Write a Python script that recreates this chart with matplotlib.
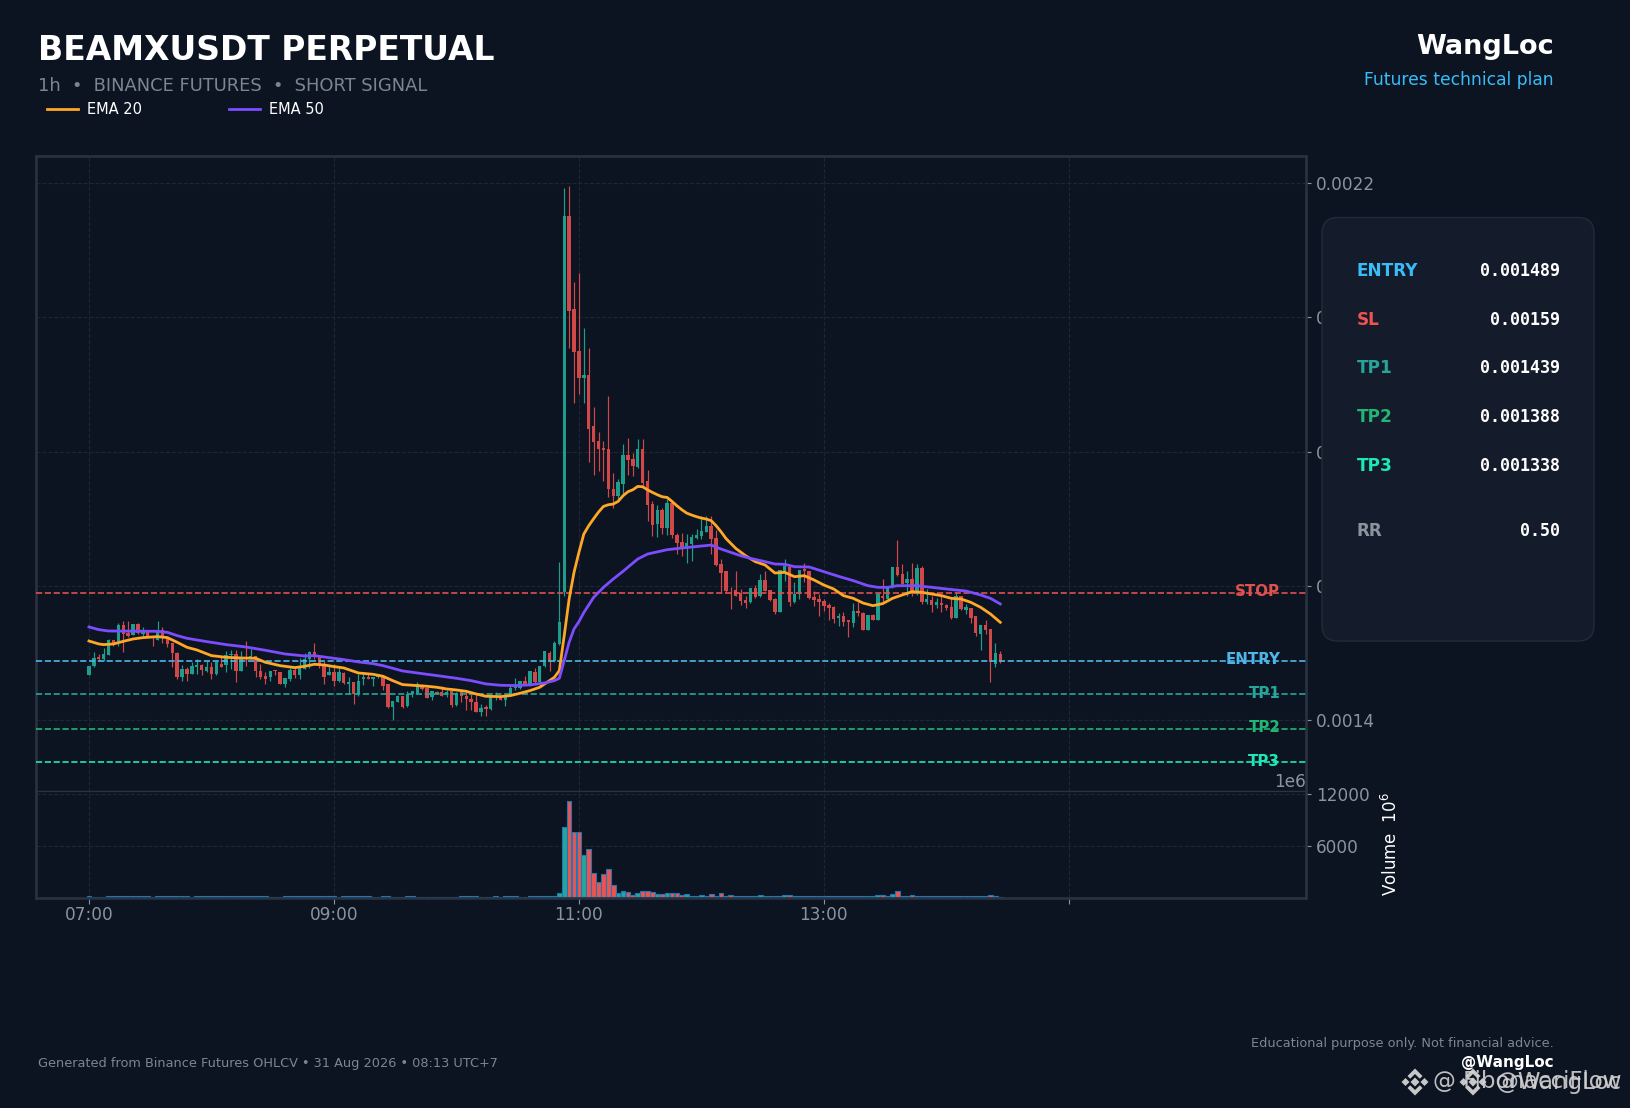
import numpy as np
import matplotlib
matplotlib.use("Agg")
import matplotlib.pyplot as plt
from matplotlib.patches import FancyBboxPatch, Polygon
from matplotlib.ticker import FormatStrFormatter, ScalarFormatter

plt.rcParams["font.family"] = ["DejaVu Sans"]

# candles, prices in 1e-6 USDT
opens = [
    1468, 1481, 1495, 1491, 1498, 1520, 1517, 1542, 1530, 1527,
    1544, 1529, 1531, 1526, 1520, 1534, 1522, 1516, 1501, 1464,
    1477, 1469, 1480, 1483, 1473, 1480, 1469, 1484, 1482, 1497,
    1499, 1474, 1494, 1493, 1496, 1474, 1466, 1465, 1475, 1472,
    1454, 1462, 1475, 1468, 1477, 1492, 1502, 1494, 1484, 1467,
    1472, 1458, 1471, 1454, 1457, 1439, 1462, 1465, 1462, 1464,
    1464, 1454, 1420, 1428, 1437, 1422, 1440, 1441, 1453, 1449,
    1435, 1443, 1442, 1438, 1444, 1423, 1442, 1437, 1432, 1427,
    1412, 1420, 1417, 1435, 1435, 1431, 1437, 1448, 1449, 1458,
    1454, 1472, 1457, 1481, 1501, 1488, 1514, 1591, 2151, 2013,
    1950, 1910, 1914, 1838, 1816, 1805, 1804, 1744, 1734, 1752,
    1795, 1789, 1778, 1804, 1756, 1722, 1692, 1714, 1686, 1723,
    1676, 1665, 1658, 1662, 1672, 1675, 1681, 1689, 1671, 1633,
    1622, 1593, 1594, 1590, 1579, 1576, 1597, 1586, 1609, 1594,
    1581, 1562, 1621, 1628, 1576, 1588, 1625, 1623, 1584, 1581,
    1578, 1572, 1569, 1553, 1556, 1549, 1545, 1563, 1560, 1535,
    1557, 1550, 1586, 1581, 1599, 1628, 1618, 1605, 1611, 1588,
    1627, 1576, 1579, 1572, 1575, 1572, 1569, 1553, 1585, 1564,
    1567, 1556, 1529, 1542, 1536, 1484, 1499,
]
highs = [
    1481, 1502, 1499, 1508, 1522, 1520, 1545, 1548, 1548, 1544,
    1545, 1539, 1534, 1526, 1548, 1539, 1526, 1516, 1502, 1483,
    1479, 1487, 1492, 1484, 1489, 1487, 1489, 1494, 1503, 1505,
    1505, 1503, 1518, 1507, 1496, 1484, 1472, 1473, 1475, 1472,
    1463, 1478, 1478, 1493, 1501, 1504, 1515, 1497, 1489, 1481,
    1484, 1479, 1472, 1464, 1457, 1469, 1469, 1469, 1465, 1469,
    1467, 1454, 1429, 1437, 1437, 1444, 1444, 1457, 1454, 1449,
    1444, 1444, 1452, 1446, 1444, 1442, 1444, 1442, 1440, 1440,
    1425, 1423, 1437, 1443, 1437, 1437, 1452, 1463, 1459, 1466,
    1473, 1478, 1481, 1503, 1504, 1519, 1636, 2193, 2196, 2053,
    2066, 1984, 1954, 1866, 1829, 1816, 1883, 1768, 1760, 1811,
    1821, 1798, 1819, 1819, 1773, 1727, 1721, 1717, 1730, 1723,
    1679, 1679, 1678, 1678, 1685, 1705, 1705, 1705, 1683, 1641,
    1622, 1598, 1623, 1596, 1586, 1597, 1602, 1618, 1622, 1594,
    1582, 1624, 1641, 1630, 1606, 1624, 1635, 1623, 1593, 1588,
    1581, 1575, 1570, 1560, 1561, 1550, 1575, 1576, 1561, 1557,
    1559, 1591, 1611, 1598, 1629, 1669, 1633, 1623, 1635, 1633,
    1630, 1596, 1586, 1583, 1586, 1574, 1583, 1591, 1585, 1573,
    1568, 1556, 1542, 1550, 1536, 1516, 1504,
]
lows = [
    1468, 1479, 1489, 1489, 1497, 1511, 1511, 1502, 1524, 1527,
    1529, 1526, 1524, 1511, 1520, 1516, 1510, 1479, 1462, 1459,
    1458, 1469, 1469, 1468, 1472, 1461, 1468, 1479, 1472, 1477,
    1457, 1473, 1481, 1492, 1464, 1462, 1454, 1459, 1467, 1454,
    1450, 1459, 1463, 1462, 1477, 1478, 1492, 1478, 1455, 1467,
    1452, 1457, 1455, 1440, 1425, 1437, 1453, 1462, 1452, 1463,
    1446, 1418, 1400, 1427, 1419, 1420, 1435, 1440, 1446, 1433,
    1431, 1439, 1437, 1435, 1420, 1421, 1428, 1415, 1415, 1412,
    1407, 1407, 1415, 1431, 1431, 1422, 1437, 1446, 1447, 1453,
    1452, 1456, 1457, 1479, 1474, 1487, 1513, 1585, 1955, 1872,
    1886, 1873, 1785, 1766, 1772, 1757, 1732, 1716, 1727, 1737,
    1766, 1764, 1776, 1749, 1697, 1674, 1673, 1678, 1676, 1671,
    1648, 1645, 1635, 1638, 1670, 1670, 1680, 1648, 1630, 1591,
    1591, 1566, 1586, 1572, 1567, 1575, 1582, 1584, 1592, 1578,
    1558, 1562, 1608, 1570, 1575, 1581, 1606, 1581, 1571, 1555,
    1563, 1550, 1545, 1540, 1540, 1524, 1539, 1555, 1534, 1534,
    1549, 1549, 1575, 1578, 1597, 1615, 1602, 1586, 1586, 1587,
    1573, 1573, 1562, 1568, 1562, 1565, 1551, 1552, 1565, 1559,
    1545, 1526, 1505, 1529, 1457, 1479, 1486,
]
closes = [
    1481, 1493, 1492, 1499, 1520, 1514, 1542, 1529, 1525, 1544,
    1530, 1534, 1525, 1525, 1534, 1524, 1514, 1501, 1464, 1477,
    1469, 1481, 1483, 1475, 1480, 1469, 1487, 1480, 1498, 1499,
    1474, 1492, 1492, 1496, 1473, 1465, 1462, 1473, 1474, 1454,
    1463, 1475, 1468, 1478, 1492, 1502, 1494, 1484, 1465, 1472,
    1459, 1472, 1456, 1457, 1440, 1459, 1465, 1462, 1465, 1467,
    1452, 1420, 1429, 1437, 1420, 1440, 1444, 1454, 1447, 1434,
    1444, 1440, 1437, 1443, 1423, 1441, 1437, 1432, 1427, 1413,
    1418, 1417, 1435, 1436, 1431, 1437, 1449, 1450, 1458, 1454,
    1473, 1457, 1481, 1503, 1487, 1515, 1547, 2151, 2010, 1949,
    1910, 1914, 1834, 1815, 1804, 1802, 1744, 1734, 1755, 1795,
    1788, 1779, 1804, 1754, 1721, 1691, 1713, 1686, 1724, 1676,
    1664, 1658, 1664, 1673, 1676, 1682, 1690, 1670, 1631, 1620,
    1592, 1592, 1586, 1578, 1575, 1597, 1584, 1609, 1593, 1579,
    1561, 1624, 1630, 1577, 1588, 1624, 1623, 1582, 1579, 1576,
    1570, 1567, 1551, 1556, 1547, 1547, 1563, 1560, 1535, 1557,
    1550, 1588, 1582, 1597, 1629, 1617, 1603, 1611, 1589, 1627,
    1576, 1581, 1572, 1576, 1572, 1568, 1553, 1585, 1566, 1569,
    1553, 1530, 1542, 1535, 1487, 1500, 1488,
]
# volume in millions
volumes = [
    90, 20, 20, 20, 90, 110, 100, 90, 120, 90,
    100, 90, 110, 20, 90, 100, 120, 90, 100, 90,
    90, 20, 100, 90, 110, 100, 90, 120, 100, 90,
    110, 100, 90, 100, 120, 90, 100, 20, 20, 20,
    90, 110, 100, 90, 120, 100, 90, 110, 100, 90,
    100, 20, 90, 110, 100, 90, 120, 100, 20, 20,
    110, 90, 20, 20, 20, 100, 90, 20, 20, 20,
    20, 20, 20, 20, 20, 20, 90, 110, 100, 90,
    20, 20, 20, 100, 20, 90, 110, 100, 20, 20,
    90, 100, 120, 110, 130, 140, 549, 8193, 11211, 7605,
    7605, 4939, 5606, 2783, 1725, 2666, 3254, 1372, 549, 784,
    627, 274, 549, 784, 784, 666, 431, 392, 549, 549,
    549, 274, 431, 196, 118, 314, 196, 431, 196, 549,
    196, 314, 118, 100, 100, 100, 100, 235, 100, 100,
    100, 100, 235, 235, 100, 100, 100, 118, 118, 118,
    100, 118, 100, 100, 100, 118, 100, 100, 100, 118,
    100, 235, 235, 118, 353, 706, 100, 100, 235, 118,
    100, 100, 118, 100, 100, 100, 100, 100, 100, 100,
    100, 118, 100, 100, 235, 118, 60,
]

# EMA lines at these candle indices
ema20_idx = [
    0, 2, 3, 5, 7, 9, 11, 14, 16, 18, 20, 22, 25, 28, 31, 34, 36, 39, 42, 44,
    46, 48, 50, 52, 53, 55, 58, 60, 62, 64, 67, 69, 71, 73, 75, 77, 79, 81, 84, 86,
    88, 90, 92, 94, 95, 96, 97, 98, 99, 100, 101, 102, 103, 104, 105, 106, 107, 108, 109, 110,
    111, 112, 113, 114, 115, 116, 117, 118, 119, 120, 121, 122, 123, 124, 125, 126, 127, 128, 129, 130,
    132, 134, 136, 138, 140, 142, 144, 146, 148, 150, 152, 154, 156, 158, 160, 162, 164, 166, 168, 170,
    172, 174, 176, 178, 180, 182, 184, 186,
]
ema20 = [
    1518.3, 1513.9, 1512.9, 1513.9, 1517.8, 1521.3, 1523.3, 1524.8, 1523.3, 1516.4,
    1508.9, 1505.0, 1496.5, 1494.0, 1493.0, 1492.6, 1486.6, 1481.6, 1478.7, 1480.6,
    1483.6, 1482.6, 1480.2, 1478.2, 1475.7, 1470.7, 1468.7, 1465.8, 1459.3, 1453.4,
    1451.9, 1450.9, 1449.4, 1446.9, 1445.4, 1443.4, 1439.5, 1436.0, 1435.5, 1437.0,
    1440.5, 1444.4, 1449.4, 1459.3, 1464.3, 1474.2, 1526.3, 1580.8, 1620.4, 1650.2,
    1677.5, 1689.9, 1700.3, 1710.2, 1718.6, 1721.1, 1722.1, 1726.1, 1734.5, 1740.5,
    1743.4, 1748.4, 1747.9, 1743.4, 1739.5, 1736.0, 1733.0, 1732.0, 1726.1, 1719.6,
    1713.7, 1708.7, 1705.8, 1703.3, 1701.3, 1699.8, 1697.4, 1689.9, 1681.0, 1671.0,
    1656.2, 1645.3, 1636.4, 1631.4, 1619.5, 1620.5, 1614.0, 1615.5, 1609.1, 1601.6,
    1595.7, 1585.8, 1581.8, 1574.8, 1570.9, 1573.9, 1581.8, 1586.8, 1591.7, 1590.7,
    1588.2, 1585.8, 1581.8, 1580.8, 1575.8, 1568.4, 1558.5, 1546.1,
]
ema50_idx = [
    0, 2, 4, 14, 16, 18, 20, 24, 28, 32, 36, 40, 44, 46, 48, 52, 55, 58, 60, 62,
    64, 67, 71, 75, 78, 81, 84, 87, 90, 93, 95, 96, 97, 98, 99, 100, 101, 103, 105, 107,
    109, 112, 114, 118, 121, 127, 129, 131, 133, 135, 138, 140, 142, 144, 147, 150, 153, 156, 159, 161,
    163, 165, 169, 172, 175, 179, 182, 184, 186,
]
ema50 = [
    1539.2, 1535.2, 1533.2, 1532.7, 1531.2, 1526.3, 1522.3, 1517.4, 1512.9, 1509.4,
    1504.5, 1499.0, 1496.0, 1496.5, 1494.5, 1490.6, 1487.1, 1484.6, 1481.6, 1477.7,
    1473.7, 1470.7, 1466.8, 1462.8, 1459.3, 1454.4, 1452.4, 1451.9, 1452.9, 1455.8,
    1459.3, 1462.8, 1489.1, 1516.4, 1536.2, 1547.1, 1560.6, 1583.2, 1598.1, 1610.5,
    1622.0, 1640.3, 1647.7, 1654.2, 1656.7, 1661.1, 1655.2, 1650.2, 1645.3, 1641.3,
    1636.4, 1632.9, 1632.4, 1628.9, 1628.4, 1621.5, 1614.5, 1608.1, 1600.6, 1598.2,
    1598.2, 1600.6, 1600.6, 1598.2, 1595.7, 1592.7, 1586.8, 1581.8, 1573.4,
]

price_ticks = [0.0014, 0.0016, 0.0018, 0.0020, 0.0022]
volume_ticks = [6000e6, 12000e6]
time_ticks = [0, 50, 100, 150, 200]
time_labels = ["07:00", "09:00", "11:00", "13:00", ""]

level_names = ["STOP", "ENTRY", "TP1", "TP2", "TP3"]
level_prices = [0.00159, 0.001489, 0.001439, 0.001388, 0.001338]
level_colors = ["#e0504f", "#4db5e8", "#26a69a", "#22b573", "#1de9b6"]

plan_names = ["ENTRY", "SL", "TP1", "TP2", "TP3", "RR"]
plan_values = ["0.001489", "0.00159", "0.001439", "0.001388", "0.001338", "0.50"]
plan_colors = ["#38bdf8", "#ef5350", "#26a69a", "#22b573", "#1de9b6", "#8b949e"]

BG = "#0d1421"
GRID = "#1d2634"
FRAME = "#2a3240"
TICK = "#8b949e"
MUTED = "#7d8590"
UP = "#1f9d8c"
DOWN = "#d04848"
W, H = 1631, 1108


def px_axes(fig, left, top, right, bottom):
    return fig.add_axes([left / W, 1 - bottom / H, (right - left) / W, (bottom - top) / H])


def style_axes(ax):
    ax.set_facecolor(BG)
    ax.grid(True, color=GRID, linestyle="--", linewidth=0.8)
    ax.set_axisbelow(True)
    ax.yaxis.tick_right()
    ax.tick_params(axis="both", colors=TICK, labelsize=12.2, length=3.5, width=0.8)
    for side in ax.spines:
        ax.spines[side].set_color(FRAME)
        ax.spines[side].set_linewidth(1.9)


def draw_logo(ax, cx, cy, r=13.5, color="#d2d2d2"):
    s = r / 13.5
    shapes = [
        [(-13.5, 0), (-9.5, -4), (-5.5, 0), (-9.5, 4)],
        [(13.5, 0), (9.5, -4), (5.5, 0), (9.5, 4)],
        [(-4.5, 0), (0, -4.5), (4.5, 0), (0, 4.5)],
        [(0, -13.5), (7.5, -6), (4.8, -3.3), (0, -8), (-4.8, -3.3), (-7.5, -6)],
        [(0, 13.5), (7.5, 6), (4.8, 3.3), (0, 8), (-4.8, 3.3), (-7.5, 6)],
    ]
    for pts in shapes:
        ax.add_patch(Polygon([(cx + x * s, cy + y * s) for x, y in pts], closed=True,
                             facecolor=color, edgecolor="none", alpha=0.95))


fig = plt.figure(figsize=(W / 100, H / 100), dpi=100, facecolor=BG)
ax = px_axes(fig, 36.5, 156.3, 1306, 791)
ax_vol = px_axes(fig, 36.5, 791, 1306, 897.7)
style_axes(ax)
style_axes(ax_vol)
ax.spines["bottom"].set_linewidth(0.9)
ax_vol.spines["top"].set_linewidth(0.9)

x = np.arange(len(closes))
o = np.array(opens) * 1e-6
h = np.array(highs) * 1e-6
l = np.array(lows) * 1e-6
c = np.array(closes) * 1e-6
colors = [UP if cl >= op else DOWN for op, cl in zip(o, c)]

# candles
ax.vlines(x, l, h, colors=colors, linewidth=0.85, zorder=3)
ax.bar(x, np.abs(c - o), bottom=np.minimum(o, c), width=0.7, color=colors, linewidth=0, zorder=3)

for price, color in zip(level_prices, level_colors):
    ax.axhline(price, color=color, linestyle="--", linewidth=1.2, zorder=3.5)

ax.plot(ema20_idx, np.array(ema20) * 1e-6, color="#ffa726", linewidth=2.0, label="EMA 20", zorder=4)
ax.plot(ema50_idx, np.array(ema50) * 1e-6, color="#7c4dff", linewidth=2.0, label="EMA 50", zorder=4)

# level tags sit on the right, on top of the dashed lines
for name, price, color in zip(level_names, level_prices, level_colors):
    ax.text(0.9797, price + 1.5e-6, name, color=color, fontsize=10.8, fontweight="bold",
            ha="right", va="center", transform=ax.get_yaxis_transform(), zorder=5)

ax.set_xlim(-10.71, 248.4)
ax.set_ylim(0.0012950, 0.0022398)
ax.set_yticks(price_ticks)
ax.yaxis.set_major_formatter(FormatStrFormatter("%.4f"))
ax.set_xticks(time_ticks)
ax.tick_params(axis="x", length=0, labelbottom=False)

# volume
vol_colors = ["#26a69a" if cl >= op else "#ef5350" for op, cl in zip(o, c)]
ax_vol.bar(x, np.array(volumes) * 1e6, width=0.95, color=vol_colors, edgecolor="#1f77b4", linewidth=0.8)
ax_vol.set_xlim(-10.71, 248.4)
ax_vol.set_ylim(-50e6, 12353e6)
ax_vol.set_yticks(volume_ticks)
fmt = ScalarFormatter()
fmt.set_powerlimits((6, 6))
ax_vol.yaxis.set_major_formatter(fmt)
ax_vol.yaxis.set_offset_position("right")
ax_vol.yaxis.get_offset_text().set_color(TICK)
ax_vol.yaxis.get_offset_text().set_fontsize(12.2)
ax_vol.yaxis.set_label_position("right")
ax_vol.set_ylabel("Volume  $10^{6}$", color="white", fontsize=12, labelpad=8)
ax_vol.set_xticks(time_ticks)
ax_vol.set_xticklabels(time_labels)
ax_vol.tick_params(axis="x", colors=TICK, labelsize=12.2, length=4, pad=2)

ax.legend(loc="center left", bbox_to_anchor=(47.5 / W, 1 - 110 / H), bbox_transform=fig.transFigure, ncol=2,
          frameon=False, labelcolor="white", fontsize=10.5, handlelength=2.1, handletextpad=0.6,
          columnspacing=6.0, borderaxespad=0, borderpad=0)

# everything laid out in pixels goes on a full figure overlay
over = fig.add_axes([0, 0, 1, 1], zorder=10)
over.set_xlim(0, W)
over.set_ylim(H, 0)
over.axis("off")

over.text(38, 50, "BEAMXUSDT PERPETUAL", color="white", fontsize=23.8, fontweight="bold", va="center")
over.text(38, 86, "1h  •  BINANCE FUTURES  •  SHORT SIGNAL", color=MUTED, fontsize=12.9, va="center")
over.text(1554, 47, "WangLoc", color="white", fontsize=19.5, fontweight="bold", ha="right", va="center")
over.text(1554, 80, "Futures technical plan", color="#38bdf8", fontsize=12.3, ha="right", va="center")

over.add_patch(FancyBboxPatch((1322, 217.5), 272, 423.5, boxstyle="round,pad=0,rounding_size=16",
                              facecolor="#141b2a", edgecolor="#232b3a", linewidth=1.0))
plan_rows = [271.5, 320.4, 368.2, 417, 466, 530.5]
for name, value, color, y in zip(plan_names, plan_values, plan_colors, plan_rows):
    over.text(1356.5, y, name, color=color, fontsize=12.2, fontweight="bold", va="center")
    over.text(1560, y, value, color="white", fontsize=12, fontweight="bold", family="DejaVu Sans Mono",
              ha="right", va="center")

over.text(38, 1064, "Generated from Binance Futures OHLCV • 31 Aug 2026 • 08:13 UTC+7", color=MUTED,
          fontsize=9.25, va="center")
over.text(1554, 1043, "Educational purpose only. Not financial advice.", color=MUTED, fontsize=9.25,
          ha="right", va="center")
over.text(1554, 1063, "@WangLoc", color="white", fontsize=11, fontweight="bold", ha="right", va="center")

# the two watermarks overlap in the source picture
draw_logo(over, 1415, 1082)
draw_logo(over, 1473, 1082)
over.text(1622, 1082, "@ FibonacciFlow", color="#d2d2d2", fontsize=16.5, ha="right", va="center", alpha=0.9)
over.text(1622, 1082, "@WangLoc", color="#d2d2d2", fontsize=16.5, ha="right", va="center", alpha=0.9)

fig.savefig("out.png", dpi=100, facecolor=BG)
